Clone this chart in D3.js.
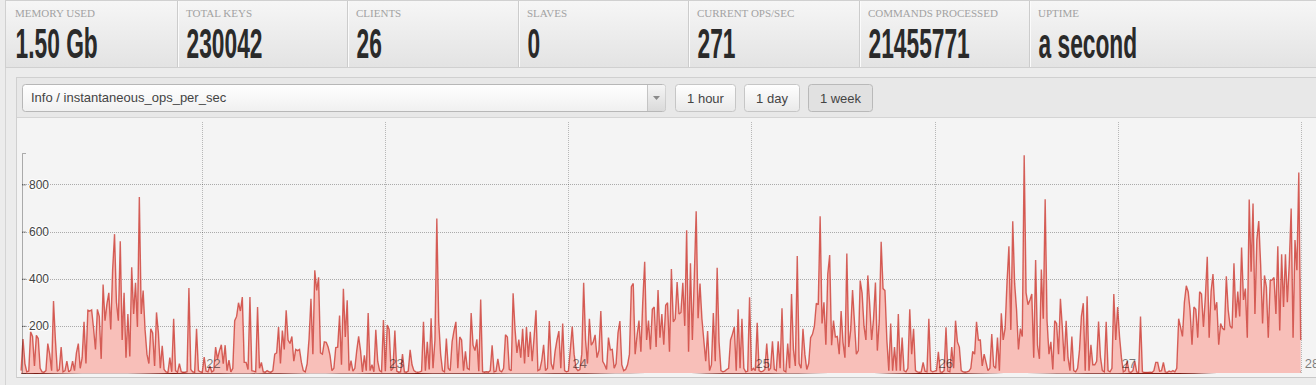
<!DOCTYPE html>
<html>
<head>
<meta charset="utf-8">
<script src="https://cdn.jsdelivr.net/npm/d3@7/dist/d3.min.js"></script>
<style>
body { margin: 0; background: #ececec; overflow: hidden; }
svg { display: block; }
.stat-label { font: 11px "Liberation Serif", "DejaVu Serif", serif; fill: #a2a2a2; }
.stat-value { font: bold 42px "Liberation Sans Narrow", "Liberation Sans", sans-serif; fill: #2a2a2a; }
.ui-text { font: 13px "Liberation Sans", Arial, sans-serif; fill: #444; }
.y-axis .domain { stroke: #000; stroke-opacity: 0.3; }
.y-axis .tick line { stroke: #000; stroke-opacity: 0.4; }
.y-axis .tick text { font: 12px "Liberation Sans", Arial, sans-serif; fill: #444;
  stroke: #fff; stroke-opacity: 0.8; stroke-width: 2.5px; paint-order: stroke; }
.x-label { font: 13px "Liberation Sans", Arial, sans-serif; fill: #000; fill-opacity: 0.5; }
</style>
</head>
<body>
<div id="chart"></div>
<script>
const width = 1316
const height = 385

// Header stats
const statLabels = ["MEMORY USED", "TOTAL KEYS", "CLIENTS", "SLAVES", "CURRENT OPS/SEC", "COMMANDS PROCESSED", "UPTIME"]
const statValues = ["1.50 Gb", "230042", "26", "0", "271", "21455771", "a second"]
const metricName = "Info / instantaneous_ops_per_sec"
const rangeButtons = ["1 hour", "1 day", "1 week"]
const activeRange = "1 week"
const yTicks = [200, 400, 600, 800]

// instantaneous_ops_per_sec, one value every 15 minutes, from the 21st 00:15 to the 28th 00:00
const day21 = [10,144,40,5,8,175,155,30,160,146,20,5,
  3,10,125,80,10,305,140,8,15,110,5,10,
  50,5,12,50,10,85,125,20,65,217,40,266,
  263,268,190,100,270,240,60,375,222,293,340,185,
  439,589,300,222,559,140,340,65,250,70,448,250,
  383,195,747,250,350,185,80,40,188,170,30,257,
  170,20,115,15,5,3,65,5,230,10,3,40,
  5,2,3,5,361,15,5,3,188,10,5,3]
const day22 = [68,8,5,30,5,10,110,60,95,120,40,118,
  10,55,5,20,222,240,298,263,322,45,45,15,
  322,10,8,5,280,20,45,5,3,10,5,3,
  10,80,85,195,40,180,100,266,140,125,155,50,
  100,95,100,45,10,5,40,146,315,80,436,350,
  406,85,80,132,130,110,75,10,20,108,110,244,
  35,357,153,308,10,52,8,20,95,155,95,5,
  75,10,254,10,35,5,183,50,10,5,225,8]
const day23 = [203,185,10,20,180,8,3,5,80,5,3,8,
  98,35,10,5,3,5,8,217,10,132,15,232,
  20,140,655,217,80,10,5,146,20,10,132,180,
  217,20,153,140,10,92,20,15,254,118,95,143,
  8,312,5,3,5,3,10,118,5,8,60,10,
  5,20,162,153,15,10,338,188,85,142,65,188,
  40,195,68,175,50,153,266,10,15,52,120,10,
  20,220,40,15,92,140,178,20,210,10,5,8]
const day24 = [100,197,80,20,10,15,80,383,140,40,230,118,
  132,162,65,95,263,50,35,15,150,98,100,20,
  40,170,220,35,10,15,35,80,366,380,80,160,
  222,90,305,472,140,222,100,270,280,110,352,150,
  250,120,287,298,90,441,217,230,386,250,257,383,
  200,606,90,466,140,406,686,232,380,232,140,50,
  178,10,35,254,50,446,132,10,5,8,15,20,
  140,165,195,10,270,20,230,20,5,8,321,10]
const day25 = [20,10,213,10,5,8,15,125,10,20,135,15,
  10,135,20,275,10,5,125,20,335,100,30,496,
  40,20,188,80,15,40,150,165,200,296,290,665,
  210,300,120,420,500,118,222,153,155,80,263,130,
  65,507,110,180,352,217,80,95,392,340,200,140,
  414,290,140,230,384,95,222,557,358,350,140,10,
  210,10,110,10,250,10,150,10,5,20,270,80,
  188,10,5,3,5,45,8,5,230,10,5,8]
const day26 = [10,90,5,3,10,194,8,5,110,20,222,132,
  110,10,5,3,5,8,20,92,80,217,140,140,
  30,80,45,10,20,165,30,20,150,10,253,140,
  190,387,538,183,644,380,268,100,188,155,924,340,
  290,310,335,65,479,118,60,439,230,737,222,80,
  132,15,222,210,80,315,195,50,222,65,10,155,
  10,5,20,98,240,296,10,325,10,120,35,35,
  50,218,68,10,5,217,10,5,20,335,140,280]
const day27 = [155,65,5,10,50,5,3,10,50,5,3,240,
  5,2,2,2,3,2,10,45,45,8,10,45,
  5,3,8,5,10,5,20,230,195,155,300,370,
  345,266,120,280,270,150,345,335,195,322,493,150,
  345,420,266,300,120,210,190,183,410,266,200,190,
  465,235,345,240,532,310,358,150,736,430,719,250,
  566,645,460,210,414,366,150,392,395,405,250,538,
  180,504,280,504,300,465,698,150,564,436,850,140]

// lowest value of each ~2 hour bucket
const minOps = [1,0,1,2,3,4,3,3,2,1,0,1,
  1,1,2,2,1,1,2,3,3,2,2,1,
  1,1,0,1,1,2,1,1,2,2,2,1,
  2,1,2,3,3,4,5,5,4,2,1,1,
  1,1,2,2,3,4,5,5,4,2,1,0,
  0,1,1,2,3,5,4,3,2,2,1,2,
  1,0,0,0,0,1,3,5,6,6,7,6,5]

const start = new Date(2014, 0, 21, 0, 15)
const end = new Date(2014, 0, 28, 0, 0)
const ops = [day21, day22, day23, day24, day25, day26, day27].flat()
  .map((v, i) => ({t: d3.timeMinute.offset(start, i * 15), v: v}))
const mins = minOps.map((v, i) => ({t: new Date(+start + i * (end - start) / (minOps.length - 1)), v: v}))

const svg = d3.select("div#chart").append("svg").attr("width", width).attr("height", height)
const defs = svg.append("defs")

function gradient(id, top, bottom) {
    const g = defs.append("linearGradient").attr("id", id)
        .attr("x1", 0).attr("y1", 0).attr("x2", 0).attr("y2", 1)
    g.append("stop").attr("offset", "0%").attr("stop-color", top)
    g.append("stop").attr("offset", "100%").attr("stop-color", bottom)
}
gradient("statGrad", "#f6f6f6", "#e3e3e3")
gradient("selectGrad", "#ffffff", "#f0f0f0")
gradient("arrowGrad", "#f5f5f5", "#dadada")
gradient("btnGrad", "#ffffff", "#e9e9e9")

// Page frame
svg.append("rect").attr("width", width).attr("height", height).attr("fill", "#ececec")
svg.append("line").attr("x1", 5.5).attr("x2", 5.5).attr("y1", 0).attr("y2", height).attr("stroke", "#d4d4d4")
svg.append("rect").attr("x", 5.5).attr("y", 0.5).attr("width", width).attr("height", 67)
    .attr("fill", "url(#statGrad)").attr("stroke", "#d0d0d0")

// Stat boxes
const statStep = 170.5
const statBoxes = svg.append("g").attr("id", "stats").selectAll("g")
    .data(statLabels)
    .enter().append("g")
    .attr("transform", (d, i) => `translate(${Math.round(6 + i * statStep)}, 0)`)

statBoxes.filter((d, i) => i > 0).append("line")
    .attr("x1", 0.5).attr("x2", 0.5).attr("y1", 1).attr("y2", 67).attr("stroke", "#cccccc")
statBoxes.filter((d, i) => i > 0).append("line")
    .attr("x1", 1.5).attr("x2", 1.5).attr("y1", 1).attr("y2", 67).attr("stroke", "#fbfbfb")
statBoxes.append("text").attr("class", "stat-label").attr("x", 9).attr("y", 17).text(d => d)
const valueTexts = statBoxes.append("text").attr("class", "stat-value")
    .text((d, i) => statValues[i])
// condensed headline font: squeeze to the reference width of "230042"
const keysWidth = valueTexts.filter((d, i) => i === 1).node().getComputedTextLength()
const squeeze = 76 / keysWidth
valueTexts.attr("transform", `translate(9.5, 58) scale(${squeeze}, 1)`)

// Panel
svg.append("rect").attr("x", 16.5).attr("y", 77.5).attr("width", width).attr("height", 300)
    .attr("fill", "#e8e8e8").attr("stroke", "#d0d0d0")
svg.append("rect").attr("x", 17).attr("y", 118).attr("width", width).attr("height", 259)
    .attr("fill", "#f4f4f4")
svg.append("line").attr("x1", 17).attr("x2", width).attr("y1", 117.5).attr("y2", 117.5).attr("stroke", "#d4d4d4")
svg.append("line").attr("x1", 17).attr("x2", width).attr("y1", 377.5).attr("y2", 377.5).attr("stroke", "#c8c8c8")

// Metric select
const select = svg.append("g").attr("id", "select")
select.append("rect").attr("x", 22.5).attr("y", 84.5).attr("width", 643).attr("height", 27).attr("rx", 3)
    .attr("fill", "url(#selectGrad)").attr("stroke", "#b7b7b7")
select.append("path").attr("d", "M647.5,85 H663 Q665.5,85 665.5,88 V108 Q665.5,111 663,111 H647.5 Z")
    .attr("fill", "url(#arrowGrad)")
select.append("line").attr("x1", 647.5).attr("x2", 647.5).attr("y1", 85).attr("y2", 111).attr("stroke", "#c4c4c4")
select.append("path").attr("d", "M653,96 L660,96 L656.5,100 Z").attr("fill", "#8a8a8a")
select.append("text").attr("class", "ui-text").attr("x", 31).attr("y", 102).text(metricName)

// Range buttons
const buttons = svg.append("g").attr("id", "buttons")
let bx = 675
rangeButtons.forEach(label => {
    const g = buttons.append("g")
    const active = label === activeRange
    const rect = g.append("rect").attr("y", 84.5).attr("height", 27).attr("rx", 3)
        .attr("fill", active ? "#e1e1e1" : "url(#btnGrad)")
        .attr("stroke", active ? "#b9b9b9" : "#c6c6c6")
    const text = g.append("text").attr("class", "ui-text").attr("y", 102.5)
        .attr("text-anchor", "middle").attr("fill", "#333").text(label)
    const w = Math.round(text.node().getComputedTextLength() + 23)
    rect.attr("x", bx + 0.5).attr("width", w)
    text.attr("x", bx + w / 2 + 0.5)
    bx += w + 9
})

// Scales
const x = d3.scaleTime().domain([start, end]).range([21.1, 1300.7])
const y = d3.scaleLinear().domain([0, d3.max(ops, d => d.v) * 1.01]).range([373, 153])

// Grid
const gridGroup = svg.append("g").attr("id", "grid")
gridGroup.selectAll("line.y-grid")
    .data(yTicks)
    .enter().append("line").attr("class", "y-grid")
    .attr("x1", 22).attr("x2", 1301)
    .attr("y1", d => Math.round(y(d)) + 0.5).attr("y2", d => Math.round(y(d)) + 0.5)
    .attr("stroke", "#000").attr("stroke-opacity", 0.3).attr("stroke-dasharray", "1,1")

const dayTicks = x.ticks(d3.timeDay.every(1))
gridGroup.selectAll("line.x-grid")
    .data(dayTicks)
    .enter().append("line").attr("class", "x-grid")
    .attr("x1", d => Math.round(x(d)) + 0.5).attr("x2", d => Math.round(x(d)) + 0.5)
    .attr("y1", 122).attr("y2", 373)
    .attr("stroke", "#000").attr("stroke-opacity", 0.25).attr("stroke-dasharray", "1,1")

// Series
const seriesGroup = svg.append("g").attr("id", "series")
const minLine = d3.line().x(d => x(d.t)).y(d => y(d.v))
const opsArea = d3.area().x(d => x(d.t)).y0(y(0)).y1(d => y(d.v))
const opsLine = d3.line().x(d => x(d.t)).y(d => y(d.v))

seriesGroup.append("path").datum(mins).attr("d", minLine)
    .attr("fill", "none").attr("stroke", "#7a1e17").attr("stroke-width", 2)
seriesGroup.append("path").datum(ops).attr("d", opsArea)
    .attr("fill", "#f8bfb9")
seriesGroup.append("path").datum(ops).attr("d", opsLine)
    .attr("fill", "none").attr("stroke", "rgba(200,45,36,0.72)").attr("stroke-width", 1.4)
    .attr("stroke-linejoin", "miter").attr("stroke-miterlimit", 2)

// Axes
const yAxis = d3.axisRight(y).tickValues(yTicks).tickSize(4).tickSizeOuter(4).tickPadding(3)
svg.append("g").attr("class", "y-axis").attr("transform", "translate(22, 0)").call(yAxis)

const dayFormat = d3.timeFormat("%d")
svg.append("g").attr("id", "xLabels").selectAll("text")
    .data(dayTicks)
    .enter().append("text").attr("class", "x-label")
    .attr("x", d => x(d) + 4).attr("y", 368)
    .text(d => dayFormat(d))
</script>
</body>
</html>
